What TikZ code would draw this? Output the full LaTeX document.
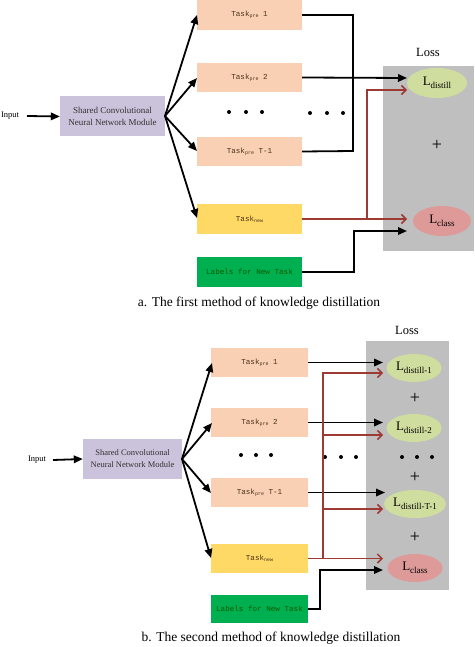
\documentclass[tikz,border=0pt]{standalone}
\usepackage{fontspec}
\setmainfont{Liberation Serif}
\newfontfamily\monof{Liberation Mono}
\usetikzlibrary{arrows.meta,shapes.geometric}
\definecolor{peach}{HTML}{F9D0B4}
\definecolor{lav}{HTML}{CBC2DB}
\definecolor{ynew}{HTML}{FFD966}
\definecolor{glab}{HTML}{00B050}
\definecolor{gbox}{HTML}{BFBFBF}
\definecolor{elg}{HTML}{CFDE9E}
\definecolor{elr}{HTML}{DE9A98}
\definecolor{redl}{HTML}{9E3A34}
\tikzset{
  blk/.style={line width=1.8pt,-{Triangle[length=9pt,width=7.5pt]}},
  blkl/.style={line width=1.8pt},
  redarr/.style={draw=redl,line width=1.5pt,-{Straight Barb[length=4.5pt,width=9pt,line width=1.5pt]}},
  redl/.style={draw=redl,line width=1.5pt},
  taskbox/.style={fill=peach,minimum height=29pt,inner sep=0pt,text=black!60!brown,font=\monof\fontsize{7.6}{8}\selectfont},
  newbox/.style={fill=ynew,minimum height=30pt,inner sep=0pt,text=black!60!brown,font=\monof\fontsize{7.6}{8}\selectfont},
  labbox/.style={fill=glab,minimum height=29pt,inner sep=0pt,text=black!65!green,font=\monof\fontsize{7.6}{8}\selectfont},
  shbox/.style={fill=lav,minimum height=40pt,inner sep=0pt,align=center,text=black!80,font=\fontsize{9}{12.5}\selectfont},
  ellg/.style={ellipse,fill=elg,inner sep=0pt},
  ellr/.style={ellipse,fill=elr,inner sep=0pt},
  dot/.style={circle,fill=black,inner sep=0pt,minimum size=4pt},
  lbl/.style={font=\fontsize{12.5}{14}\selectfont},
  captxt/.style={font=\fontsize{13.5}{15}\selectfont},
  plustxt/.style={font=\fontsize{18}{18}\selectfont},
  inp/.style={font=\fontsize{8.5}{9}\selectfont},
}
\newcommand{\tsk}[1]{Task{\fontsize{5}{5}\selectfont\raisebox{-1pt}{#1}}}
\newcommand{\lsub}[1]{{\fontsize{13}{13}\selectfont L}{\fontsize{9}{9}\selectfont\raisebox{-2.5pt}{#1}}}
\begin{document}
\begin{tikzpicture}[x=1pt,y=-1pt]
\useasboundingbox (0,0) rectangle (474,647);
% ================= TOP =================
\fill[gbox] (383,66) rectangle (474,251);
\node[lbl] (loss1) at (428,52) {Loss};
\node[inp] (in1) at (10,116) {Input};
\coordinate (in1e) at (27,116);
\node[shbox,minimum width=105pt] (sh1) at (112.5,116.5) {Shared Convolutional\\Neural Network Module};
\node[taskbox,minimum width=105pt,minimum height=30pt] (t1) at (249.5,15) {\tsk{pre} 1};
\node[taskbox,minimum width=105pt] (t2) at (249.5,77.5) {\tsk{pre} 2};
\node[taskbox,minimum width=105pt] (tT) at (249.5,151.5) {\tsk{pre} T-1};
\node[newbox,minimum width=105pt] (tn) at (249.5,219) {\tsk{new}};
\node[labbox,minimum width=105pt,minimum height=30pt] (lb) at (249.5,272) {Labels for New Task};
\foreach \x/\n in {229/a,246/b,262/c} \node[dot] (dl\n) at (\x,112) {};
\foreach \x/\n in {310/a,327/b,343/c} \node[dot] (dr\n) at (\x,113) {};
\node[ellg,minimum width=60pt,minimum height=30pt] (ld) at (437,83) {\lsub{distill}};
\node[plustxt] (p1) at (437,145) {+};
\node[ellr,minimum width=58pt,minimum height=30pt] (lc) at (442,221) {\lsub{class}};
% arrows from input/shared
\draw[blk] (in1e) -- (sh1.west);
\coordinate (s1) at (165,116);
\draw[blk] (s1) -- (197,15);
\draw[blk] (s1) -- (197,78);
\draw[blk] (s1) -- (197,151);
\draw[blk] (s1) -- (197,218);
% pre-task connectors
\coordinate (j1) at (353,151);
\draw[blkl] (t1.east) -| (j1) -- (tT.east);
\coordinate (ld2) at (407,78);
\draw[blk] (t2.east) -- (ld2);
% red
\coordinate (rj) at (367,219);
\coordinate (rt) at (407,90);
\coordinate (rc) at (407,219);
\draw[redl] (tn.east) -- (rj);
\draw[redarr] (rj) -- (rc);
\draw[redarr] (rj) |- (rt);
% labels
\coordinate (lj) at (354,272);
\coordinate (lt) at (407,231);
\draw[blk] (lb.east) -- (lj) |- (lt);
\node[captxt] (cap1) at (259,303) {a. The first method of knowledge distillation};
% ================= BOTTOM =================
\fill[gbox] (366,341) rectangle (449,590);
\node[lbl] (loss2) at (407,330) {Loss};
\node[inp] (in2) at (37,460) {Input};
\coordinate (in2e) at (53,460);
\node[shbox,minimum width=99pt,font=\fontsize{8.5}{12}\selectfont] (sh2) at (132.5,459) {Shared Convolutional\\Neural Network Module};
\node[taskbox,minimum width=97pt] (b1) at (259.5,362.5) {\tsk{pre} 1};
\node[taskbox,minimum width=97pt] (b2) at (259.5,422.5) {\tsk{pre} 2};
\node[taskbox,minimum width=97pt] (bT) at (259.5,492.5) {\tsk{pre} T-1};
\node[newbox,minimum width=97pt,minimum height=29pt] (bn) at (259.5,558.5) {\tsk{new}};
\node[labbox,minimum width=97pt,minimum height=28pt] (bl) at (259.5,609) {Labels for New Task};
\foreach \x/\n in {241/a,256/b,271/c} \node[dot] (el\n) at (\x,455) {};
\foreach \x/\n in {325/a,341/b,356/c} \node[dot] (em\n) at (\x,457) {};
\foreach \x/\n in {402/a,417/b,432/c} \node[dot] (er\n) at (\x,457) {};
\node[ellg,minimum width=55pt,minimum height=28pt] (e1) at (414,368) {\lsub{distill-1}};
\node[ellg,minimum width=55pt,minimum height=28pt] (e2) at (414,428) {\lsub{distill-2}};
\node[ellg,minimum width=55pt,minimum height=28pt] (eT) at (415,504) {\lsub{distill-T-1}};
\node[ellr,minimum width=55pt,minimum height=28pt] (ec) at (415,568) {\lsub{class}};
\node[plustxt] (q1) at (415,398) {+};
\node[plustxt] (q2) at (415,477) {+};
\node[plustxt] (q3) at (415,537) {+};
\draw[blk] (in2e) -- (sh2.west);
\coordinate (s2) at (182,459);
\draw[blk] (s2) -- (212,363);
\draw[blk] (s2) -- (212,423);
\draw[blk] (s2) -- (211,493);
\draw[blk] (s2) -- (211,558);
\coordinate (a1) at (383,362.5);
\coordinate (a2) at (383,422.5);
\coordinate (aT) at (385,492.5);
\draw[blk] (b1.east) -- (a1);
\draw[blk] (b2.east) -- (a2);
\draw[blk] (bT.east) -- (aT);
% red
\coordinate (rv) at (323,558.5);
\coordinate (r1) at (383,373);
\coordinate (r2) at (383,435);
\coordinate (r3) at (383,509);
\coordinate (r4) at (383,558.5);
\draw[redl] (bn.east) -- (rv);
\draw[redarr] (rv) -- (r4);
\draw[redarr] (rv) |- (r1);
\draw[redarr] (rv |- r2) -- (r2);
\draw[redarr] (rv |- r3) -- (r3);
% labels
\coordinate (bj) at (320,609);
\coordinate (bt) at (383,570);
\draw[blk] (bl.east) -- (bj) |- (bt);
\node[captxt] (cap2) at (271,638) {b. The second method of knowledge distillation};
\end{tikzpicture}
\end{document}
